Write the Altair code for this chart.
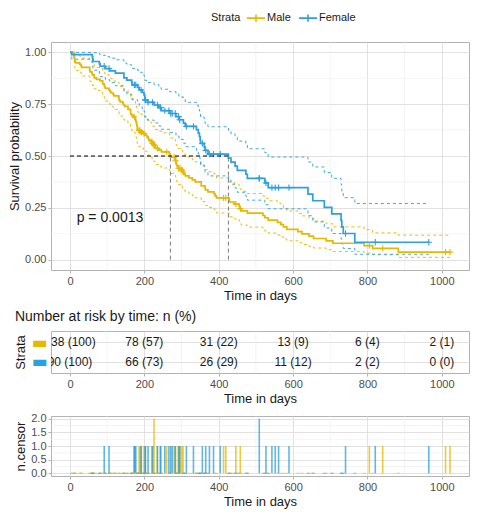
import altair as alt
import pandas as pd
from bisect import bisect_right

# ---- data (lung data, KM by sex) ----
strata = ["Male", "Female"]
palette = ["#E7B800", "#2E9FDF"]

male_time = [0, 11, 12, 13, 15, 26, 30, 31, 53, 54, 59, 60, 65, 71, 81, 88, 92, 93, 95, 105, 107, 110, 116,
             118, 131, 132, 135, 142, 144, 147, 156, 163, 166, 170, 175, 176, 177, 179, 180, 181, 183, 189,
             197, 202, 207, 210, 212, 218, 222, 223, 229, 230, 239, 246, 267, 269, 270, 283, 284, 285, 286,
             288, 291, 301, 303, 306, 310, 320, 329, 337, 353, 363, 364, 371, 387, 390, 394, 428, 429, 442,
             455, 457, 460, 477, 519, 524, 533, 558, 567, 574, 583, 613, 624, 643, 655, 689, 707, 791, 814, 883]
male_surv = [1.0, .978, .971, .957, .949, .942, .935, .928, .913, .906, .899, .891, .877, .870, .862, .848,
             .841, .833, .826, .819, .812, .804, .797, .790, .783, .768, .761, .754, .746, .739, .725, .703,
             .696, .688, .681, .674, .666, .652, .645, .630, .623, .615, .608, .600, .592, .585, .577, .569,
             .561, .553, .545, .537, .528, .520, .511, .503, .494, .485, .477, .468, .459, .450, .441, .432,
             .423, .413, .404, .394, .385, .375, .356, .346, .337, .327, .318, .308, .298, .288, .278, .268,
             .257, .246, .235, .224, .213, .202, .191, .180, .169, .158, .146, .135, .124, .113, .102, .091,
             .079, .068, .054, .036]
male_lower = [1.0, .954, .943, .923, .913, .904, .895, .886, .867, .859, .850, .841, .824, .816, .807, .790,
              .782, .773, .765, .757, .749, .741, .733, .725, .717, .701, .693, .685, .677, .669, .654, .631,
              .623, .615, .607, .599, .592, .577, .569, .554, .547, .539, .531, .523, .515, .507, .499, .491,
              .483, .475, .467, .459, .450, .442, .433, .424, .416, .407, .399, .390, .381, .372, .363, .354,
              .345, .335, .326, .317, .308, .298, .280, .270, .262, .252, .244, .235, .225, .216, .207, .197,
              .187, .177, .167, .157, .148, .138, .128, .119, .110, .100, .091, .082, .073, .064, .056, .048,
              .039, .032, .023, .011]
male_upper = [1.0, 1.0, .999, .992, .987, .982, .977, .972, .961, .956, .950, .944, .933, .927, .922, .910,
              .904, .898, .892, .886, .880, .873, .867, .861, .855, .842, .835, .829, .823, .817, .804, .784,
              .777, .770, .763, .756, .750, .736, .730, .716, .709, .702, .695, .688, .681, .673, .666, .659,
              .651, .643, .636, .628, .620, .612, .603, .595, .587, .578, .571, .562, .553, .545, .536, .527,
              .519, .509, .500, .490, .482, .472, .453, .443, .434, .424, .415, .404, .394, .384, .374, .364,
              .352, .341, .330, .319, .307, .296, .284, .273, .261, .249, .235, .223, .211, .198, .186, .173,
              .158, .145, .129, .118]
male_censor = [173, 186, 188, 191, 192, 199, 220, 222, 226, 226, 235, 260, 280, 284, 292, 296, 301, 304,
               413, 419, 446, 458, 805, 841, 1010, 1022]
male_end = 1022

female_time = [0, 5, 60, 61, 62, 79, 81, 95, 107, 122, 145, 153, 166, 167, 182, 186, 194, 199, 201, 208,
               226, 239, 245, 268, 285, 293, 305, 310, 340, 345, 348, 350, 351, 361, 363, 371, 426, 433,
               444, 450, 473, 477, 524, 533, 640, 653, 684, 704, 729, 731, 735, 766]
female_surv = [1.0, .989, .978, .967, .956, .944, .933, .922, .911, .900, .877, .866, .855, .843, .831, .819,
               .807, .795, .771, .759, .746, .733, .719, .705, .690, .675, .659, .643, .627, .610, .594, .577,
               .561, .544, .527, .509, .490, .470, .451, .431, .412, .392, .370, .347, .316, .284, .252, .221,
               .189, .158, .126, .084]
female_lower = [1.0, .967, .948, .930, .914, .898, .883, .868, .854, .839, .811, .798, .784, .771, .757, .743,
                .729, .715, .688, .673, .659, .645, .629, .613, .597, .580, .562, .545, .527, .509, .492, .475,
                .457, .440, .422, .404, .385, .364, .345, .325, .306, .287, .265, .245, .212, .182, .153, .126,
                .100, .076, .054, .026]
female_upper = [1.0, 1.0, 1.0, 1.0, .999, .993, .986, .979, .972, .964, .948, .940, .931, .923, .913, .904,
                .895, .885, .865, .855, .844, .833, .822, .810, .798, .785, .773, .759, .745, .731, .717, .703,
                .688, .673, .658, .641, .625, .607, .590, .572, .554, .535, .516, .495, .471, .447, .420, .392,
                .362, .331, .299, .271]
female_censor = [92, 105, 173, 174, 177, 191, 202, 203, 210, 222, 235, 243, 244, 255, 266, 271, 275, 283,
                 292, 295, 313, 332, 356, 365, 375, 386, 404, 509, 509, 527, 543, 552, 561, 589, 741, 821, 965]
female_end = 965

medians = [270, 426]
pval_text = "p = 0.0013"

risk_times = [0, 200, 400, 600, 800, 1000]
male_risk_n = [138, 78, 31, 13, 6, 2]
male_risk_pct = [100, 57, 22, 9, 4, 1]
female_risk_n = [90, 66, 26, 11, 2, 0]
female_risk_pct = [100, 73, 29, 12, 2, 0]

x_ticks = [0, 200, 400, 600, 800, 1000]
x_minor = [100, 300, 500, 700, 900]
y_ticks = [0, 0.25, 0.5, 0.75, 1.0]
y_minor = [0.125, 0.375, 0.625, 0.875]
c_ticks = [0, 0.5, 1.0, 1.5, 2.0]
c_minor = [0.25, 0.75, 1.25, 1.75]

# ---- tables ----
groups = {
    "Male": (male_time, male_surv, male_lower, male_upper, male_censor, male_end),
    "Female": (female_time, female_surv, female_lower, female_upper, female_censor, female_end),
}
curve_rows, cens_rows, count_rows = [], [], []
for g, (t, s, lo, up, cen, end) in groups.items():
    tt = t + [end]
    for kind, vals in (("surv", s), ("lower", lo), ("upper", up)):
        vv = vals + [vals[-1]]
        for a, b in zip(tt, vv):
            curve_rows.append({"time": a, "value": b, "strata": g, "kind": kind})
    for c in cen:
        cens_rows.append({"time": c, "value": s[bisect_right(t, c) - 1], "strata": g})
    cc = pd.Series(cen).value_counts()
    for c, n in cc.items():
        count_rows.append({"time": c, "n": n, "strata": g})
    for e in t[1:]:
        if e not in cc.index:
            count_rows.append({"time": e, "n": 0, "strata": g})
curves = pd.DataFrame(curve_rows)
cens = pd.DataFrame(cens_rows)
counts = pd.DataFrame(count_rows)

risk = pd.DataFrame({
    "time": risk_times * 2,
    "strata": ["Male"] * 6 + ["Female"] * 6,
    "label": [f"{n} ({p})" for n, p in zip(male_risk_n + female_risk_n, male_risk_pct + female_risk_pct)],
})

FONT = "Liberation Sans"
W = 418
xdom = [-51.1, 1073.1]

legend = alt.Legend(title="Strata", orient="none", legendX=160, legendY=-31,
                    direction="horizontal", titleOrient="left",
                    symbolType="M-1.5,0H1.5M0,-0.6V0.6", symbolSize=144,
                    symbolStrokeWidth=1.6, labelFontSize=11, titleFontSize=11,
                    titleFontWeight="normal", titleColor="#1A1A1A",
                    labelColor="#1A1A1A", columnPadding=4, labelOffset=4,
                    titlePadding=8)
color = alt.Color("strata:N", scale=alt.Scale(domain=strata, range=palette), sort=strata, legend=legend)
color_nl = alt.Color("strata:N", scale=alt.Scale(domain=strata, range=palette), sort=strata, legend=None)


def X(field, title="Time in days"):
    return alt.X(field, type="quantitative", title=title,
                 scale=alt.Scale(domain=xdom, nice=False, zero=False),
                 axis=alt.Axis(values=x_ticks, format="d"))


def minor_x():
    return alt.Chart(pd.DataFrame({"v": x_minor})).mark_rule(color="#EDEDED", strokeWidth=0.6).encode(
        x=X("v"))


# ---- survival plot ----
ysc = alt.Scale(domain=[-0.05, 1.05], nice=False, zero=False)


def Y(field):
    return alt.Y(field, type="quantitative", title="Survival probability", scale=ysc,
                 axis=alt.Axis(values=y_ticks, format=".2f"))


gx = minor_x()
gy = alt.Chart(pd.DataFrame({"v": y_minor})).mark_rule(color="#EDEDED", strokeWidth=0.6).encode(y=Y("v"))

ci = alt.Chart(curves[curves.kind != "surv"]).mark_line(
    interpolate="step-after", strokeWidth=0.9, strokeDash=[3, 3]
).encode(x=X("time"), y=Y("value"), color=color, detail="kind:N")

surv = alt.Chart(curves[curves.kind == "surv"]).mark_line(
    interpolate="step-after", strokeWidth=1.7
).encode(x=X("time"), y=Y("value"), color=color)

marks = alt.Chart(cens).mark_point(shape="M-1,0H1M0,-1V1", size=40, strokeWidth=1.1, filled=False,
                                   opacity=1).encode(x=X("time"), y=Y("value"), color=color)

med_h = alt.Chart(pd.DataFrame({"x": [0], "x2": [max(medians)], "y": [0.5]})).mark_rule(
    color="black", strokeDash=[4, 3], strokeWidth=1).encode(x=X("x"), x2="x2", y=Y("y"))
med_v = alt.Chart(pd.DataFrame({"x": medians, "y": [0.0] * 2, "y2": [0.5] * 2})).mark_rule(
    color="#7A7A7A", strokeDash=[4, 3], strokeWidth=1).encode(x=X("x"), y=Y("y"), y2="y2")

pv = alt.Chart(pd.DataFrame({"x": [18], "y": [0.2], "t": [pval_text]})).mark_text(
    align="left", baseline="middle", fontSize=14, color="#1A1A1A").encode(x=X("x"), y=Y("y"), text="t")

main = alt.layer(gx, gy, ci, surv, marks, med_h, med_v, pv).properties(width=W, height=228)

# ---- risk table ----
ry = alt.Y("strata:N", title="Strata", sort=strata,
           scale=alt.Scale(type="point", domain=strata, padding=0.6),
           axis=alt.Axis(labelExpr="'\u25ac'", labelFont="DejaVu Sans", labelFontSize=17,
                         labelColor={"condition": {"test": "datum.value == 'Male'", "value": palette[0]},
                                     "value": palette[1]},
                         ticks=False, labelPadding=4, grid=True))
rtext = alt.Chart(risk).mark_text(fontSize=12, color="#1A1A1A", clip=True).encode(
    x=X("time"), y=ry, text="label:N")
risk_chart = alt.layer(minor_x(), rtext).properties(
    width=W, height=42,
    title=alt.TitleParams("Number at risk by time: n (%)", anchor="start", fontSize=14,
                          fontWeight="normal", color="#1A1A1A", offset=7, font=FONT))

# ---- censor counts ----
cy = alt.Y("n:Q", title="n.censor", scale=alt.Scale(domain=[-0.1, 2.1], nice=False, zero=False),
           axis=alt.Axis(values=c_ticks, format=".1f"))
cgy = alt.Chart(pd.DataFrame({"v": c_minor})).mark_rule(color="#EDEDED", strokeWidth=0.6).encode(
    y=alt.Y("v:Q", title="n.censor", scale=alt.Scale(domain=[-0.1, 2.1], nice=False, zero=False),
            axis=alt.Axis(values=c_ticks, format=".1f")))
bars = alt.Chart(counts[counts.n > 0]).mark_rule(strokeWidth=1.6, opacity=0.75).encode(
    x=X("time"), y=cy, y2=alt.datum(0), color=color_nl)
zeros = alt.Chart(counts[counts.n == 0]).mark_tick(orient="horizontal", size=3, thickness=1.2,
                                                   opacity=0.5).encode(x=X("time"), y=cy, color=color_nl)
cens_chart = alt.layer(minor_x(), cgy, bars, zeros).properties(width=W, height=60)

chart = alt.vconcat(main, risk_chart, cens_chart, spacing=6).resolve_legend(color="independent").properties(
    padding={"left": 0, "top": 2, "right": 0, "bottom": 0}
).configure(font=FONT).configure_view(
    stroke="#B3B3B3", strokeWidth=1
).configure_axis(
    labelColor="#4D4D4D", labelFontSize=11, titleFontSize=13, titleColor="#1A1A1A",
    titleFontWeight="normal", tickColor="#B3B3B3", tickSize=3, domain=False,
    gridColor="#DEDEDE", gridWidth=0.9, labelPadding=2, titlePadding=3
)

chart.save("out.html", embed_options={"renderer": "svg", "actions": False})
